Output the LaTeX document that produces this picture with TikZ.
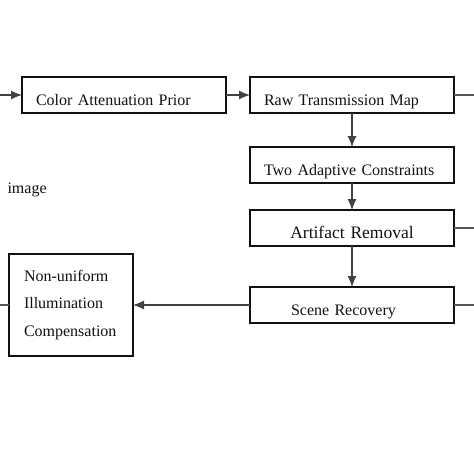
\documentclass[tikz,border=0pt]{standalone}
\usepackage{fontspec}
\setmainfont{Liberation Serif}
\definecolor{ink}{HTML}{111111}
\usetikzlibrary{
  arrows.meta,
  positioning
}
\tikzset{
  >={Latex[length=11pt,width=9pt]},
  every picture/.style={line join=miter},
  every node/.style={font=\fontsize{16}{19}\selectfont, text=ink},
  block/.style={
    draw=ink,
    fill=white,
    line width=1.8pt,
    outer sep=0pt,
    minimum width=204pt,
    minimum height=36pt,
    text width=176pt,
    align=left,
    inner xsep=14pt,
    inner ysep=2pt,
    text height=20pt,
    text depth=0pt
  },
  blockC/.style={block, align=center},
  tallbox/.style={
    draw=ink,
    fill=white,
    line width=1.8pt,
    outer sep=0pt,
    minimum width=124pt,
    minimum height=102pt,
    text width=94pt,
    align=left,
    inner xsep=15pt,
    font=\fontsize{16}{27.5}\selectfont
  },
  arrow/.style={->, line width=1.1pt, draw=ink!80},
  wire/.style={line width=1.1pt, draw=ink!70},
  annot/.style={font=\fontsize{16}{19}\selectfont, text=ink}
}

\begin{document}
\begin{tikzpicture}[x=1pt, y=-1pt]
  \useasboundingbox (0,0) rectangle (474,474);

  % Main chain
  \node[block] (cap) at (124,95) {Color Attenuation Prior};
  \node[block, right=24pt of cap] (rtm) {Raw Transmission Map};
  \node[block, below=34pt of rtm] (tac) {Two Adaptive Constraints};
  \node[blockC, below=27pt of tac, font=\fontsize{17.5}{20}\selectfont] (ar) {Artifact Removal};
  \node[block, below=41pt of ar, inner xsep=41pt, text width=122pt] (sr) {Scene Recovery};
  \node[tallbox, left=117pt of sr] (nic) {Non-uniform\\Illumination\\Compensation};

  % Side label
  \node[annot, anchor=base west] (imglbl) at (4,193) {image};

  % Loose ends at the edges
  \coordinate (inL) at (0,95);
  \coordinate (outL) at (0,305);
  \coordinate (outR1) at (474,95);
  \coordinate (outR2) at (474,228);
  \coordinate (outR3) at (474,305);

  % Connectors
  \draw[arrow] (inL) -- (cap.west);
  \draw[arrow] (cap) -- (rtm);
  \draw[arrow] (rtm) -- (tac);
  \draw[arrow] (tac) -- (ar);
  \draw[arrow] (ar) -- (sr);
  \draw[arrow] (sr) -- (nic);
  \draw[wire] (nic.west) -- (outL);
  \draw[wire] (rtm.east) -- (outR1);
  \draw[wire] (ar.east) -- (outR2);
  \draw[wire] (sr.east) -- (outR3);
\end{tikzpicture}
\end{document}
